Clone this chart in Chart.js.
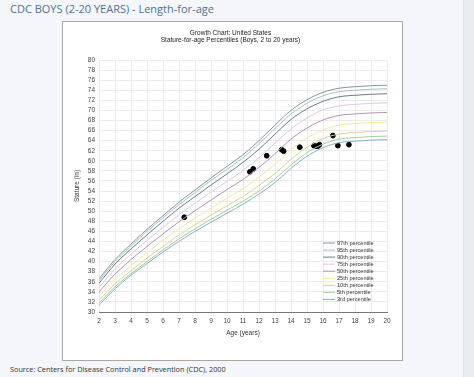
<!DOCTYPE html>
<html>
<head>
<meta charset="utf-8">
<title>CDC Boys 2-20 Stature-for-age</title>
<script src="https://cdn.jsdelivr.net/npm/chart.js@4.4.0/dist/chart.umd.min.js"></script>
<style>
  body { margin: 0; width: 474px; height: 377px; overflow: hidden; position: relative; background: #f4f6f9; font-family: "Open Sans", sans-serif; }
  #heading { position: absolute; left: 10px; top: 1px; font-size: 11px; color: #52728f; white-space: nowrap; }
  #box { position: absolute; left: 62px; top: 21px; width: 341px; height: 340px; box-sizing: border-box; background: #fff; border: 1px solid #a8a8a8; }
  #source { position: absolute; left: 10px; top: 364px; font-size: 7.3px; color: #333; white-space: nowrap; }
  #side { position: absolute; left: 463px; top: 0; width: 11px; height: 377px; background: #e8edf2; border-left: 1px solid #dde3ea; }
</style>
</head>
<body>
<div id="heading">CDC BOYS (2-20 YEARS) - Length-for-age</div>
<div id="box"><canvas id="growth" width="339" height="338"></canvas></div>
<div id="source">Source: Centers for Disease Control and Prevention (CDC), 2000</div>
<div id="side"></div>
<script>
// percentile curves, stature in inches, one value per year of age
const ages = [2, 3, 4, 5, 6, 7, 8, 9, 10, 11, 12, 13, 14, 15, 16, 17, 18, 19, 20];
const p97 = [36.6, 40.4, 43.5, 46.4, 49.1, 51.8, 54.2, 56.6, 58.9, 61.2, 64.0, 67.1, 70.0, 72.1, 73.6, 74.4, 74.7, 74.9, 75.0];
const p95 = [36.2, 40.0, 43.1, 46.0, 48.7, 51.3, 53.7, 56.1, 58.3, 60.6, 63.4, 66.4, 69.3, 71.4, 72.9, 73.7, 74.0, 74.2, 74.3];
const p90 = [35.7, 39.5, 42.5, 45.3, 48.0, 50.6, 52.9, 55.2, 57.4, 59.7, 62.3, 65.3, 68.2, 70.3, 71.8, 72.7, 73.0, 73.2, 73.3];
const p75 = [34.9, 38.5, 41.5, 44.2, 46.8, 49.3, 51.6, 53.8, 55.9, 58.1, 60.6, 63.5, 66.3, 68.5, 70.1, 70.9, 71.2, 71.4, 71.5];
const p50 = [34.0, 37.5, 40.4, 43.0, 45.5, 47.9, 50.1, 52.2, 54.3, 56.3, 58.7, 61.4, 64.3, 66.5, 68.1, 69.0, 69.3, 69.5, 69.6];
const p25 = [33.1, 36.5, 39.2, 41.8, 44.2, 46.5, 48.6, 50.6, 52.6, 54.5, 56.8, 59.3, 62.2, 64.5, 66.1, 67.1, 67.4, 67.6, 67.7];
const p10 = [32.3, 35.6, 38.2, 40.7, 43.0, 45.3, 47.3, 49.2, 51.1, 52.9, 55.1, 57.5, 60.3, 62.7, 64.4, 65.3, 65.6, 65.8, 65.9];
const p5  = [31.8, 35.0, 37.6, 40.0, 42.3, 44.5, 46.5, 48.4, 50.2, 52.0, 54.0, 56.4, 59.2, 61.6, 63.3, 64.3, 64.6, 64.8, 64.9];
const p3  = [31.4, 34.6, 37.3, 39.6, 41.9, 44.0, 46.0, 47.8, 49.6, 51.4, 53.4, 55.7, 58.5, 60.9, 62.6, 63.6, 63.9, 64.1, 64.2];

// measured child
const visitAges = [7.33, 11.43, 11.64, 12.48, 13.42, 13.54, 14.55, 15.43, 15.55, 15.68, 15.78, 16.62, 16.93, 17.62];
const visitHeights = [48.8, 57.8, 58.4, 61.0, 62.2, 61.9, 62.7, 63.0, 62.9, 62.9, 63.2, 65.0, 63.0, 63.2];

const curves = [
  ['97th percentile', p97, '#8796a3'],
  ['95th percentile', p95, '#a9c2c4'],
  ['90th percentile', p90, '#6b7d8c'],
  ['75th percentile', p75, '#dccbe0'],
  ['50th percentile', p50, '#b994a8'],
  ['25th percentile', p25, '#f1e8a6'],
  ['10th percentile', p10, '#d9d49a'],
  ['5th percentile', p5, '#a5d0a0'],
  ['3rd percentile', p3, '#8eb0c8']
];

const toPoints = (xs, ys) => xs.map((x, i) => ({ x: x, y: ys[i] }));

let datasets = curves.map(c => ({
  label: c[0],
  data: toPoints(ages, c[1]),
  showLine: true,
  borderColor: c[2],
  borderWidth: 1,
  pointRadius: 0,
  cubicInterpolationMode: 'monotone'
}));
datasets.push({
  label: 'Stature',
  data: toPoints(visitAges, visitHeights),
  showLine: false,
  pointRadius: 2.4,
  pointBackgroundColor: '#000',
  pointBorderColor: '#000'
});

// two line heading above the plot
const chartHeading = {
  id: 'chartHeading',
  afterDraw(chart) {
    const ctx = chart.ctx;
    ctx.save();
    ctx.fillStyle = '#222';
    ctx.font = '6.5px "Liberation Sans", Arial, sans-serif';
    ctx.textAlign = 'center';
    ctx.textBaseline = 'middle';
    ctx.fillText('Growth Chart: United States', chart.width / 2 - 2, 11);
    ctx.fillText('Stature-for-age Percentiles (Boys, 2 to 20 years)', chart.width / 2 - 2, 18.5);
    ctx.restore();
  }
};

// legend sits inside the plot, lower right
const insideLegend = {
  id: 'insideLegend',
  afterDraw(chart) {
    const ctx = chart.ctx;
    const area = chart.chartArea;
    const sets = chart.data.datasets.filter(d => d.showLine);
    ctx.save();
    ctx.font = '5.6px "Liberation Sans", Arial, sans-serif';
    ctx.textBaseline = 'middle';
    sets.forEach((d, i) => {
      const y = area.bottom - 69 + i * 7.05;
      const x = area.right - 64;
      ctx.strokeStyle = d.borderColor;
      ctx.lineWidth = 1;
      ctx.beginPath();
      ctx.moveTo(x, y);
      ctx.lineTo(x + 12, y);
      ctx.stroke();
      ctx.fillStyle = '#333';
      ctx.fillText(d.label, x + 14, y);
    });
    ctx.restore();
  }
};

const tickFont = { family: '"Liberation Sans", Arial, sans-serif', size: 6.5 };

new Chart(document.getElementById('growth'), {
  type: 'scatter',
  data: { datasets },
  options: {
    responsive: false,
    animation: false,
    layout: { padding: { top: 38, right: 15, left: 0, bottom: 0 } },
    plugins: { legend: { display: false }, tooltip: { enabled: false }, title: { display: false } },
    scales: {
      x: {
        type: 'linear', min: 2, max: 20,
        ticks: { stepSize: 1, autoSkip: false, color: '#444', font: tickFont, padding: 5 },
        grid: { color: '#ebebeb', drawTicks: false },
        border: { color: '#777', width: 1 },
        title: { display: true, text: 'Age (years)', color: '#333', font: tickFont, padding: { top: 0, bottom: 23 } },
        afterFit: s => { s.height = 48; }
      },
      y: {
        min: 30, max: 80,
        ticks: { stepSize: 2, autoSkip: false, color: '#444', font: tickFont, padding: 4 },
        grid: { color: '#ebebeb', drawTicks: false },
        border: { display: false },
        title: { display: true, text: 'Stature (in)', color: '#333', font: tickFont, padding: { top: 10, bottom: 0 } },
        afterFit: s => { s.width = 36; }
      }
    }
  },
  plugins: [chartHeading, insideLegend]
});
</script>
</body>
</html>
